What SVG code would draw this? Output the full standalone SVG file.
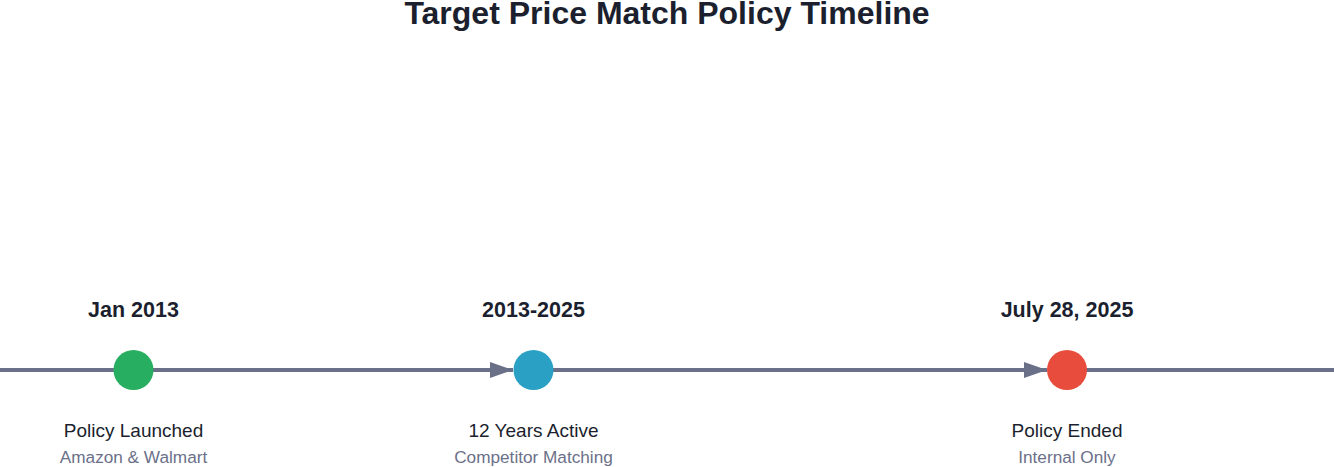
<svg xmlns="http://www.w3.org/2000/svg" width="1334" height="467" viewBox="0 0 1334 467">
<style>
.axis{stroke:#6b7089;stroke-width:4;fill:none}
.title{font-family:"Liberation Sans",Arial,sans-serif;font-size:32px;font-weight:bold;fill:#1b1f2e;text-anchor:middle}
.date{font-family:"Liberation Sans",Arial,sans-serif;font-size:21.5px;font-weight:bold;fill:#1b1f2e;text-anchor:middle}
.lbl{font-family:"Liberation Sans",Arial,sans-serif;font-size:19px;fill:#1b1f2e;text-anchor:middle}
.sub{font-family:"Liberation Sans",Arial,sans-serif;font-size:17.2px;fill:#6b7089;text-anchor:middle}
</style>
<defs>
<marker id="arr" viewBox="0 0 23 16" refX="23" refY="8" markerWidth="23" markerHeight="16" markerUnits="userSpaceOnUse" orient="auto">
<path d="M0,0 L23,8 L0,16 z" fill="#6b7089"/>
</marker>
</defs>
<rect width="1334" height="467" fill="#ffffff"/>
<text class="title" x="667" y="24">Target Price Match Policy Timeline</text>
<g id="connectors">
<line class="axis" x1="0" y1="370" x2="114" y2="370"/>
<line class="axis" x1="153" y1="370" x2="513" y2="370" marker-end="url(#arr)"/>
<line class="axis" x1="553" y1="370" x2="1047" y2="370" marker-end="url(#arr)"/>
<line class="axis" x1="1086" y1="370" x2="1334" y2="370"/>
</g>
<g id="node-launch">
<text class="date" x="133.5" y="317">Jan 2013</text>
<circle cx="133.5" cy="370" r="20" fill="#27ae60"/>
<text class="lbl" x="133.5" y="437">Policy Launched</text>
<text class="sub" x="133.5" y="463">Amazon &amp; Walmart</text>
</g>
<g id="node-active">
<text class="date" x="533.5" y="317">2013-2025</text>
<circle cx="533.5" cy="370" r="20" fill="#2aa0c4"/>
<text class="lbl" x="533.5" y="437">12 Years Active</text>
<text class="sub" x="533.5" y="463">Competitor Matching</text>
</g>
<g id="node-ended">
<text class="date" x="1067" y="317">July 28, 2025</text>
<circle cx="1067" cy="370" r="20" fill="#e74c3c"/>
<text class="lbl" x="1067" y="437">Policy Ended</text>
<text class="sub" x="1067" y="463">Internal Only</text>
</g>
</svg>
